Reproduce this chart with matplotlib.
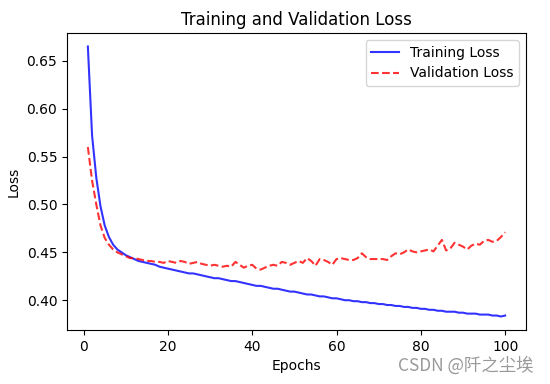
import matplotlib
matplotlib.use('Agg')
import matplotlib.pyplot as plt

epochs = list(range(1, 101))

train_loss = [
    0.665, 0.572, 0.528, 0.498, 0.478, 0.466, 0.458, 0.453, 0.450, 0.447,
    0.445, 0.443, 0.441, 0.440, 0.439, 0.438, 0.437, 0.435, 0.434, 0.433,
    0.432, 0.431, 0.430, 0.429, 0.428, 0.428, 0.427, 0.426, 0.425, 0.424,
    0.423, 0.423, 0.422, 0.421, 0.420, 0.420, 0.419, 0.418, 0.417, 0.416,
    0.415, 0.415, 0.414, 0.413, 0.412, 0.412, 0.411, 0.410, 0.409, 0.409,
    0.408, 0.407, 0.406, 0.406, 0.405, 0.404, 0.404, 0.403, 0.402, 0.402,
    0.401, 0.400, 0.400, 0.399, 0.399, 0.398, 0.398, 0.397, 0.397, 0.396,
    0.396, 0.395, 0.395, 0.394, 0.394, 0.393, 0.393, 0.392, 0.392, 0.391,
    0.391, 0.390, 0.390, 0.389, 0.389, 0.388, 0.388, 0.388, 0.387, 0.387,
    0.386, 0.386, 0.386, 0.385, 0.385, 0.385, 0.384, 0.384, 0.383, 0.384,
]

val_loss = [
    0.560, 0.525, 0.500, 0.478, 0.465, 0.458, 0.453, 0.450, 0.448, 0.446,
    0.444, 0.444, 0.443, 0.442, 0.441, 0.441, 0.440, 0.440, 0.439, 0.441,
    0.440, 0.439, 0.441, 0.440, 0.438, 0.439, 0.440, 0.438, 0.437, 0.436,
    0.437, 0.436, 0.435, 0.436, 0.435, 0.440, 0.437, 0.434, 0.436, 0.437,
    0.433, 0.432, 0.434, 0.436, 0.437, 0.436, 0.440, 0.439, 0.437, 0.439,
    0.441, 0.439, 0.444, 0.441, 0.436, 0.443, 0.442, 0.440, 0.437, 0.443,
    0.444, 0.443, 0.442, 0.442, 0.444, 0.449, 0.445, 0.443, 0.443, 0.443,
    0.443, 0.442, 0.446, 0.449, 0.448, 0.450, 0.453, 0.451, 0.450, 0.451,
    0.452, 0.453, 0.451, 0.457, 0.463, 0.452, 0.454, 0.460, 0.458, 0.456,
    0.453, 0.457, 0.459, 0.458, 0.462, 0.463, 0.461, 0.462, 0.466, 0.471,
]

W, H = 550, 384
fig = plt.figure(figsize=(W / 100, H / 100), dpi=100)
ax = fig.add_axes([67 / W, 1 - 330 / H, (526 - 67) / W, (330 - 33) / H])

ax.plot(epochs, train_loss, 'b', alpha=0.8, label='Training Loss')
ax.plot(epochs, val_loss, 'r--', alpha=0.8, label='Validation Loss')
ax.set_title('Training and Validation Loss')
ax.set_xlabel('Epochs')
ax.set_ylabel('Loss')
ax.legend()

# watermark
fig.text(534 / W, 1 - 365 / H, 'CSDN @阡之尘埃', ha='right', va='center',
         fontsize=12.5, color='#999999',
         family=['Noto Sans CJK SC', 'DejaVu Sans'])

fig.savefig('out.png', dpi=100)
